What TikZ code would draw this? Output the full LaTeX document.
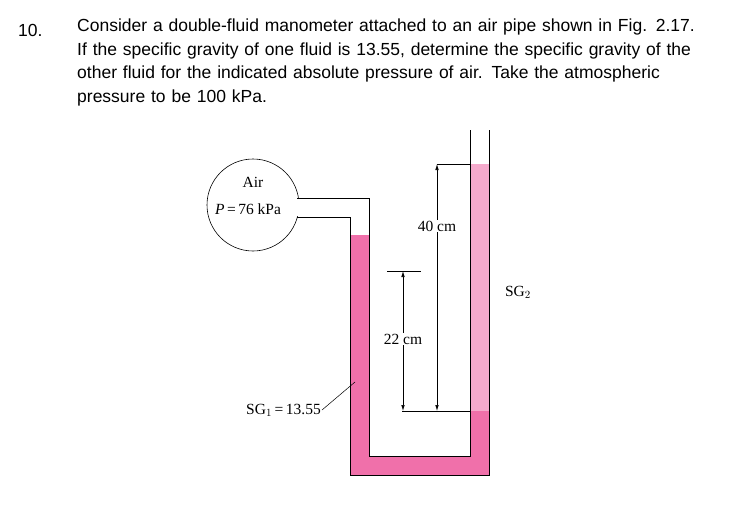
\documentclass[tikz,border=0pt]{standalone}
\usepackage{fontspec}
\setmainfont{Liberation Serif}
\newfontfamily\arialf{Liberation Sans}
\begin{document}
\begin{tikzpicture}[x=1pt,y=-1pt,
  wall/.style={draw=black,line width=0.7pt},
  dim/.style={line width=0.6pt,-{Latex[length=6pt,width=3.5pt]}},
  tick/.style={line width=0.7pt},
  lbl/.style={font=\fontsize{15.5}{17}\selectfont,inner sep=1pt}]
\useasboundingbox (0,0) rectangle (731,506);
\definecolor{pinkd}{RGB}{240,112,170}
\definecolor{pinkl}{RGB}{245,170,204}
\usetikzlibrary{arrows.meta}
% text
\node[anchor=base west,font=\arialf\fontsize{17.5}{24}\selectfont,inner sep=0] (num) at (18,36) {10.};
\node[anchor=north west,font=\arialf\fontsize{17.5}{23.5}\selectfont,inner sep=0,align=left,text width=680] (txt) at (77,19)
{Consider a double-fluid manometer attached to an air pipe shown in Fig. 2.17.\\
If the specific gravity of one fluid is 13.55, determine the specific gravity of the\\
other fluid for the indicated absolute pressure of air. Take the atmospheric\\
pressure to be 100 kPa.};
% fluids
\fill[pinkd] (350,235) rectangle (369,475);
\fill[pinkd] (369,456) rectangle (489,475);
\fill[pinkd] (470,411) rectangle (489,456);
\fill[pinkl] (470,164) rectangle (489,411);
% circle
\node[draw,circle,minimum size=92,inner sep=0,line width=0.6pt] (air) at (253,205) {};
% walls
\draw[wall] (297,198) -- (369,198) -- (369,456) -- (470,456) -- (470,130);
\draw[wall] (297,217) -- (350,217) -- (350,475) -- (489,475) -- (489,130);
\fill[white] (294,199) rectangle (302,216);
% labels
\node[lbl] (airt) at (253,182) {Air};
\node[lbl] (pt) at (248,209) {\textit{P}\,=\,76 kPa};
% dimensions
\coordinate (t40) at (437,164); \coordinate (b40) at (437,411);
\draw[tick] (437,164) -- (470,164);
\draw[tick] (402,411) -- (470,411);
\draw[tick] (387,271) -- (421,271);
\node[lbl,fill=white] (l40) at (437,226) {40 cm};
\draw[dim] (l40.north) -- (t40);
\draw[dim] (l40.south) -- (b40);
\coordinate (t22) at (403,271); \coordinate (b22) at (403,411);
\node[lbl,fill=white] (l22) at (403,339) {22 cm};
\draw[dim] (l22.north) -- (t22);
\draw[dim] (l22.south) -- (b22);
\node[lbl] (sg2) at (518,292) {SG$_2$};
\node[lbl,anchor=east] (sg1) at (322,410) {SG$_1$\,=\,13.55};
\coordinate (sg1p) at (355,382);
\draw[line width=0.5pt] (sg1.east) -- (sg1p);
\end{tikzpicture}
\end{document}
